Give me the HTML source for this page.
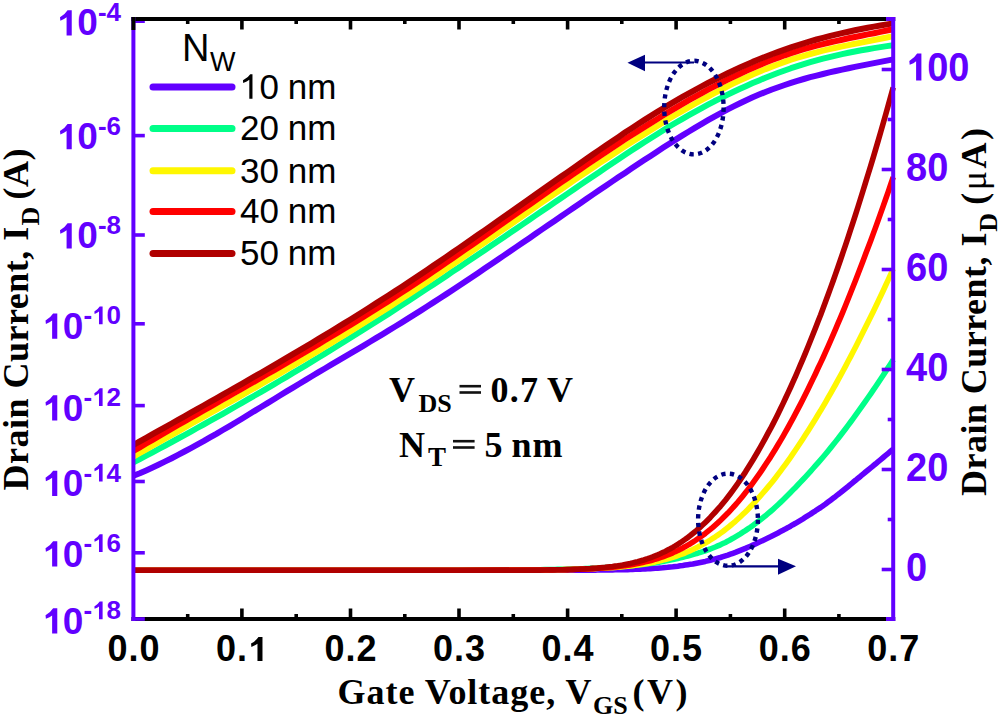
<!DOCTYPE html>
<html><head><meta charset="utf-8"><style>
html,body{margin:0;padding:0;background:#fff;overflow:hidden;}
svg{display:block;}
.sb{font-family:"Liberation Sans",sans-serif;font-weight:bold;fill:#000;}
.sr{font-family:"Liberation Sans",sans-serif;fill:#000;}
.pu{fill:#6200FF;}
.se{font-family:"Liberation Serif",serif;font-weight:bold;fill:#000;}
</style></head><body>
<svg width="1000" height="719" viewBox="0 0 1000 719">
<rect width="1000" height="719" fill="#fff"/>
<g fill="none" stroke-width="6.0" stroke-linejoin="round">
<path d="M133.4 475.8 L139.8 473.2 L146.2 470.4 L152.6 467.5 L158.9 464.5 L165.3 461.4 L171.7 458.2 L178.1 454.9 L184.5 451.5 L190.9 448.1 L197.2 444.6 L203.6 441.1 L210.0 437.4 L216.4 433.8 L222.8 430.0 L229.2 426.3 L235.6 422.5 L241.9 418.7 L248.3 414.8 L254.7 410.9 L261.1 407.0 L267.5 403.1 L273.9 399.2 L280.3 395.3 L286.6 391.4 L293.0 387.6 L299.4 383.7 L305.8 379.9 L312.2 376.0 L318.6 372.2 L324.9 368.5 L331.3 364.7 L337.7 360.9 L344.1 357.1 L350.5 353.4 L356.9 349.6 L363.3 345.8 L369.6 342.0 L376.0 338.1 L382.4 334.3 L388.8 330.4 L395.2 326.5 L401.6 322.6 L407.9 318.6 L414.3 314.6 L420.7 310.6 L427.1 306.5 L433.5 302.4 L439.9 298.2 L446.3 294.1 L452.6 289.9 L459.0 285.7 L465.4 281.4 L471.8 277.2 L478.2 272.9 L484.6 268.6 L491.0 264.3 L497.3 260.0 L503.7 255.6 L510.1 251.3 L516.5 246.9 L522.9 242.6 L529.3 238.2 L535.6 233.8 L542.0 229.4 L548.4 225.1 L554.8 220.7 L561.2 216.3 L567.6 211.9 L574.0 207.5 L580.3 203.2 L586.7 198.8 L593.1 194.4 L599.5 190.1 L605.9 185.8 L612.3 181.4 L618.7 177.1 L625.0 172.9 L631.4 168.6 L637.8 164.3 L644.2 160.1 L650.6 155.9 L657.0 151.7 L663.3 147.6 L669.7 143.5 L676.1 139.4 L682.5 135.4 L688.9 131.5 L695.3 127.6 L701.7 123.9 L708.0 120.2 L714.4 116.6 L720.8 113.1 L727.2 109.7 L733.6 106.4 L740.0 103.2 L746.3 100.2 L752.7 97.3 L759.1 94.6 L765.5 92.0 L771.9 89.5 L778.3 87.2 L784.7 85.0 L791.0 82.9 L797.4 80.9 L803.8 79.0 L810.2 77.2 L816.6 75.6 L823.0 74.0 L829.4 72.4 L835.7 71.0 L842.1 69.6 L848.5 68.2 L854.9 66.9 L861.3 65.6 L867.7 64.4 L874.0 63.1 L880.4 61.9 L886.8 60.6 L893.2 59.4" stroke="#6200FF"/>
<path d="M133.4 462.4 L139.8 459.1 L146.2 455.7 L152.6 452.3 L158.9 448.9 L165.3 445.5 L171.7 442.0 L178.1 438.5 L184.5 435.1 L190.9 431.6 L197.2 428.0 L203.6 424.5 L210.0 420.9 L216.4 417.4 L222.8 413.8 L229.2 410.1 L235.6 406.5 L241.9 402.9 L248.3 399.2 L254.7 395.5 L261.1 391.8 L267.5 388.1 L273.9 384.3 L280.3 380.5 L286.6 376.8 L293.0 372.9 L299.4 369.1 L305.8 365.3 L312.2 361.4 L318.6 357.5 L324.9 353.6 L331.3 349.7 L337.7 345.8 L344.1 341.8 L350.5 337.8 L356.9 333.8 L363.3 329.8 L369.6 325.8 L376.0 321.7 L382.4 317.7 L388.8 313.6 L395.2 309.5 L401.6 305.3 L407.9 301.2 L414.3 297.0 L420.7 292.8 L427.1 288.6 L433.5 284.4 L439.9 280.2 L446.3 275.9 L452.6 271.6 L459.0 267.4 L465.4 263.1 L471.8 258.8 L478.2 254.5 L484.6 250.2 L491.0 245.8 L497.3 241.5 L503.7 237.2 L510.1 232.8 L516.5 228.5 L522.9 224.1 L529.3 219.8 L535.6 215.4 L542.0 211.0 L548.4 206.7 L554.8 202.3 L561.2 198.0 L567.6 193.6 L574.0 189.3 L580.3 184.9 L586.7 180.6 L593.1 176.2 L599.5 171.9 L605.9 167.6 L612.3 163.3 L618.7 159.0 L625.0 154.8 L631.4 150.5 L637.8 146.4 L644.2 142.2 L650.6 138.2 L657.0 134.2 L663.3 130.2 L669.7 126.3 L676.1 122.5 L682.5 118.8 L688.9 115.2 L695.3 111.6 L701.7 108.1 L708.0 104.7 L714.4 101.3 L720.8 98.1 L727.2 94.9 L733.6 91.8 L740.0 88.8 L746.3 85.9 L752.7 83.1 L759.1 80.4 L765.5 77.7 L771.9 75.2 L778.3 72.8 L784.7 70.5 L791.0 68.2 L797.4 66.1 L803.8 64.1 L810.2 62.2 L816.6 60.4 L823.0 58.7 L829.4 57.1 L835.7 55.6 L842.1 54.1 L848.5 52.8 L854.9 51.5 L861.3 50.3 L867.7 49.2 L874.0 48.1 L880.4 47.1 L886.8 46.1 L893.2 45.2" stroke="#00FF88"/>
<path d="M133.4 456.6 L139.8 452.9 L146.2 449.3 L152.6 445.7 L158.9 442.1 L165.3 438.5 L171.7 434.9 L178.1 431.3 L184.5 427.7 L190.9 424.0 L197.2 420.4 L203.6 416.8 L210.0 413.2 L216.4 409.6 L222.8 406.0 L229.2 402.4 L235.6 398.8 L241.9 395.1 L248.3 391.5 L254.7 387.8 L261.1 384.2 L267.5 380.5 L273.9 376.8 L280.3 373.1 L286.6 369.4 L293.0 365.7 L299.4 361.9 L305.8 358.2 L312.2 354.4 L318.6 350.6 L324.9 346.8 L331.3 342.9 L337.7 339.0 L344.1 335.1 L350.5 331.2 L356.9 327.3 L363.3 323.3 L369.6 319.3 L376.0 315.3 L382.4 311.2 L388.8 307.1 L395.2 303.0 L401.6 298.8 L407.9 294.7 L414.3 290.4 L420.7 286.2 L427.1 281.9 L433.5 277.6 L439.9 273.3 L446.3 268.9 L452.6 264.5 L459.0 260.2 L465.4 255.8 L471.8 251.3 L478.2 246.9 L484.6 242.5 L491.0 238.0 L497.3 233.6 L503.7 229.1 L510.1 224.7 L516.5 220.2 L522.9 215.7 L529.3 211.3 L535.6 206.8 L542.0 202.4 L548.4 198.0 L554.8 193.6 L561.2 189.2 L567.6 184.8 L574.0 180.4 L580.3 176.1 L586.7 171.7 L593.1 167.4 L599.5 163.1 L605.9 158.9 L612.3 154.7 L618.7 150.5 L625.0 146.3 L631.4 142.2 L637.8 138.1 L644.2 134.1 L650.6 130.1 L657.0 126.1 L663.3 122.2 L669.7 118.3 L676.1 114.5 L682.5 110.8 L688.9 107.1 L695.3 103.5 L701.7 99.9 L708.0 96.5 L714.4 93.1 L720.8 89.8 L727.2 86.5 L733.6 83.4 L740.0 80.3 L746.3 77.4 L752.7 74.5 L759.1 71.8 L765.5 69.1 L771.9 66.6 L778.3 64.2 L784.7 61.9 L791.0 59.7 L797.4 57.7 L803.8 55.8 L810.2 54.0 L816.6 52.3 L823.0 50.7 L829.4 49.2 L835.7 47.8 L842.1 46.4 L848.5 45.1 L854.9 43.8 L861.3 42.6 L867.7 41.3 L874.0 40.0 L880.4 38.8 L886.8 37.5 L893.2 36.1" stroke="#FFF700"/>
<path d="M133.4 451.0 L139.8 447.3 L146.2 443.5 L152.6 439.8 L158.9 436.1 L165.3 432.4 L171.7 428.7 L178.1 425.0 L184.5 421.4 L190.9 417.7 L197.2 414.1 L203.6 410.4 L210.0 406.8 L216.4 403.1 L222.8 399.5 L229.2 395.9 L235.6 392.2 L241.9 388.6 L248.3 384.9 L254.7 381.3 L261.1 377.6 L267.5 374.0 L273.9 370.3 L280.3 366.6 L286.6 362.9 L293.0 359.2 L299.4 355.4 L305.8 351.7 L312.2 347.9 L318.6 344.1 L324.9 340.3 L331.3 336.5 L337.7 332.7 L344.1 328.8 L350.5 324.9 L356.9 321.0 L363.3 317.0 L369.6 313.0 L376.0 309.0 L382.4 305.0 L388.8 300.9 L395.2 296.8 L401.6 292.6 L407.9 288.4 L414.3 284.2 L420.7 280.0 L427.1 275.7 L433.5 271.3 L439.9 267.0 L446.3 262.6 L452.6 258.2 L459.0 253.8 L465.4 249.4 L471.8 245.0 L478.2 240.5 L484.6 236.0 L491.0 231.6 L497.3 227.1 L503.7 222.6 L510.1 218.1 L516.5 213.6 L522.9 209.1 L529.3 204.7 L535.6 200.2 L542.0 195.7 L548.4 191.2 L554.8 186.8 L561.2 182.4 L567.6 178.0 L574.0 173.6 L580.3 169.2 L586.7 164.8 L593.1 160.5 L599.5 156.2 L605.9 151.9 L612.3 147.7 L618.7 143.5 L625.0 139.3 L631.4 135.2 L637.8 131.1 L644.2 127.1 L650.6 123.1 L657.0 119.2 L663.3 115.3 L669.7 111.4 L676.1 107.6 L682.5 103.9 L688.9 100.2 L695.3 96.6 L701.7 93.1 L708.0 89.7 L714.4 86.3 L720.8 83.0 L727.2 79.8 L733.6 76.7 L740.0 73.7 L746.3 70.7 L752.7 67.9 L759.1 65.2 L765.5 62.5 L771.9 60.0 L778.3 57.6 L784.7 55.3 L791.0 53.2 L797.4 51.1 L803.8 49.2 L810.2 47.4 L816.6 45.7 L823.0 44.1 L829.4 42.5 L835.7 41.1 L842.1 39.7 L848.5 38.3 L854.9 37.0 L861.3 35.7 L867.7 34.4 L874.0 33.2 L880.4 31.9 L886.8 30.5 L893.2 29.2" stroke="#FF0000"/>
<path d="M133.4 445.0 L139.8 441.4 L146.2 437.8 L152.6 434.2 L158.9 430.6 L165.3 427.1 L171.7 423.5 L178.1 419.9 L184.5 416.3 L190.9 412.7 L197.2 409.1 L203.6 405.5 L210.0 401.9 L216.4 398.3 L222.8 394.7 L229.2 391.0 L235.6 387.4 L241.9 383.8 L248.3 380.1 L254.7 376.4 L261.1 372.8 L267.5 369.1 L273.9 365.4 L280.3 361.6 L286.6 357.9 L293.0 354.1 L299.4 350.4 L305.8 346.6 L312.2 342.8 L318.6 338.9 L324.9 335.1 L331.3 331.2 L337.7 327.3 L344.1 323.4 L350.5 319.5 L356.9 315.5 L363.3 311.5 L369.6 307.5 L376.0 303.4 L382.4 299.3 L388.8 295.2 L395.2 291.1 L401.6 286.9 L407.9 282.7 L414.3 278.5 L420.7 274.2 L427.1 269.9 L433.5 265.6 L439.9 261.3 L446.3 256.9 L452.6 252.5 L459.0 248.1 L465.4 243.7 L471.8 239.3 L478.2 234.8 L484.6 230.4 L491.0 225.9 L497.3 221.4 L503.7 216.9 L510.1 212.5 L516.5 208.0 L522.9 203.5 L529.3 199.0 L535.6 194.5 L542.0 190.0 L548.4 185.5 L554.8 181.0 L561.2 176.5 L567.6 172.1 L574.0 167.6 L580.3 163.2 L586.7 158.7 L593.1 154.3 L599.5 149.9 L605.9 145.6 L612.3 141.2 L618.7 136.9 L625.0 132.6 L631.4 128.4 L637.8 124.2 L644.2 120.1 L650.6 116.1 L657.0 112.1 L663.3 108.2 L669.7 104.4 L676.1 100.6 L682.5 96.9 L688.9 93.3 L695.3 89.8 L701.7 86.4 L708.0 83.0 L714.4 79.8 L720.8 76.6 L727.2 73.5 L733.6 70.5 L740.0 67.5 L746.3 64.7 L752.7 61.9 L759.1 59.3 L765.5 56.7 L771.9 54.2 L778.3 51.9 L784.7 49.6 L791.0 47.4 L797.4 45.3 L803.8 43.3 L810.2 41.4 L816.6 39.5 L823.0 37.8 L829.4 36.2 L835.7 34.6 L842.1 33.1 L848.5 31.7 L854.9 30.3 L861.3 29.0 L867.7 27.8 L874.0 26.6 L880.4 25.5 L886.8 24.4 L893.2 23.4" stroke="#B00000"/>
<path d="M133.4 570.3 L214.7 570.3 L296.0 570.3 L377.4 570.3 L458.7 570.3 L540.0 570.3 L545.0 570.3 L547.5 570.3 L550.0 570.3 L552.5 570.3 L555.0 570.3 L557.5 570.2 L560.0 570.2 L562.5 570.2 L565.0 570.2 L567.5 570.2 L570.1 570.2 L572.6 570.2 L575.1 570.2 L577.6 570.2 L580.1 570.2 L582.6 570.2 L585.1 570.1 L587.6 570.1 L590.1 570.1 L592.6 570.1 L595.1 570.1 L597.6 570.0 L600.1 570.0 L602.6 570.0 L605.1 570.0 L607.6 569.9 L610.1 569.9 L612.6 569.9 L615.1 569.8 L617.6 569.8 L620.2 569.7 L622.7 569.7 L625.2 569.6 L627.7 569.6 L630.2 569.5 L632.7 569.4 L635.2 569.3 L637.7 569.2 L640.2 569.1 L642.7 569.0 L645.2 568.9 L647.7 568.8 L650.2 568.7 L652.7 568.5 L655.2 568.3 L657.7 568.2 L660.2 568.0 L662.7 567.8 L665.2 567.5 L667.7 567.3 L670.3 567.0 L672.8 566.8 L675.3 566.5 L677.8 566.2 L680.3 565.8 L682.8 565.5 L685.3 565.1 L687.8 564.7 L690.3 564.3 L692.8 563.9 L695.3 563.4 L697.8 562.9 L700.3 562.4 L702.8 561.9 L705.3 561.4 L707.8 560.8 L710.3 560.2 L712.8 559.6 L715.3 558.9 L717.8 558.2 L720.4 557.5 L722.9 556.7 L725.4 555.9 L727.9 555.1 L730.4 554.2 L732.9 553.3 L735.4 552.4 L737.9 551.4 L740.4 550.4 L742.9 549.4 L745.4 548.4 L747.9 547.3 L750.4 546.2 L752.9 545.1 L755.4 544.0 L757.9 542.8 L760.4 541.6 L762.9 540.4 L765.4 539.2 L767.9 538.0 L770.5 536.8 L773.0 535.5 L775.5 534.2 L778.0 532.9 L780.5 531.6 L783.0 530.3 L785.5 528.9 L788.0 527.6 L790.5 526.2 L793.0 524.7 L795.5 523.3 L798.0 521.8 L800.5 520.3 L803.0 518.8 L805.5 517.2 L808.0 515.6 L810.5 514.1 L813.0 512.4 L815.5 510.8 L818.0 509.1 L820.6 507.5 L823.1 505.7 L825.6 504.0 L828.1 502.1 L830.6 500.2 L833.1 498.3 L835.6 496.4 L838.1 494.4 L840.6 492.5 L843.1 490.5 L845.6 488.5 L848.1 486.5 L850.6 484.4 L853.1 482.3 L855.6 480.3 L858.1 478.2 L860.6 476.2 L863.1 474.1 L865.6 472.0 L868.1 470.0 L870.7 467.9 L873.2 465.8 L875.7 463.8 L878.2 461.7 L880.7 459.6 L883.2 457.5 L885.7 455.4 L888.2 453.3 L890.7 451.2 L893.2 449.1" stroke="#6200FF" stroke-width="5.6"/>
<path d="M133.4 570.3 L214.7 570.3 L296.0 570.3 L377.4 570.3 L458.7 570.2 L540.0 569.7 L545.0 569.6 L547.5 569.6 L550.0 569.5 L552.5 569.5 L555.0 569.5 L557.5 569.4 L560.0 569.3 L562.5 569.3 L565.0 569.2 L567.5 569.2 L570.1 569.1 L572.6 569.0 L575.1 569.0 L577.6 568.9 L580.1 568.8 L582.6 568.7 L585.1 568.6 L587.6 568.5 L590.1 568.4 L592.6 568.3 L595.1 568.2 L597.6 568.0 L600.1 567.9 L602.6 567.8 L605.1 567.6 L607.6 567.5 L610.1 567.3 L612.6 567.2 L615.1 567.0 L617.6 566.8 L620.2 566.6 L622.7 566.4 L625.2 566.2 L627.7 566.0 L630.2 565.8 L632.7 565.5 L635.2 565.3 L637.7 565.0 L640.2 564.8 L642.7 564.5 L645.2 564.2 L647.7 563.8 L650.2 563.5 L652.7 563.2 L655.2 562.8 L657.7 562.4 L660.2 562.0 L662.7 561.5 L665.2 561.1 L667.7 560.6 L670.3 560.1 L672.8 559.6 L675.3 559.0 L677.8 558.5 L680.3 557.9 L682.8 557.2 L685.3 556.6 L687.8 556.0 L690.3 555.3 L692.8 554.6 L695.3 553.9 L697.8 553.2 L700.3 552.4 L702.8 551.6 L705.3 550.8 L707.8 549.9 L710.3 549.0 L712.8 548.0 L715.3 547.0 L717.8 545.9 L720.4 544.8 L722.9 543.6 L725.4 542.4 L727.9 541.1 L730.4 539.7 L732.9 538.3 L735.4 536.8 L737.9 535.3 L740.4 533.8 L742.9 532.2 L745.4 530.6 L747.9 528.9 L750.4 527.2 L752.9 525.4 L755.4 523.6 L757.9 521.7 L760.4 519.8 L762.9 517.8 L765.4 515.8 L767.9 513.7 L770.5 511.5 L773.0 509.3 L775.5 507.0 L778.0 504.7 L780.5 502.4 L783.0 500.0 L785.5 497.5 L788.0 495.0 L790.5 492.5 L793.0 489.9 L795.5 487.4 L798.0 484.8 L800.5 482.1 L803.0 479.5 L805.5 476.8 L808.0 474.1 L810.5 471.3 L813.0 468.5 L815.5 465.7 L818.0 462.8 L820.6 459.9 L823.1 457.0 L825.6 454.0 L828.1 450.9 L830.6 447.9 L833.1 444.8 L835.6 441.6 L838.1 438.5 L840.6 435.2 L843.1 432.0 L845.6 428.7 L848.1 425.4 L850.6 422.0 L853.1 418.6 L855.6 415.1 L858.1 411.7 L860.6 408.2 L863.1 404.6 L865.6 401.1 L868.1 397.5 L870.7 393.8 L873.2 390.2 L875.7 386.5 L878.2 382.7 L880.7 379.0 L883.2 375.2 L885.7 371.4 L888.2 367.5 L890.7 363.7 L893.2 359.8" stroke="#00FF88" stroke-width="5.6"/>
<path d="M133.4 570.3 L214.7 570.3 L296.0 570.3 L377.4 570.3 L458.7 570.3 L540.0 570.0 L545.0 569.9 L547.5 569.9 L550.0 569.8 L552.5 569.8 L555.0 569.8 L557.5 569.7 L560.0 569.7 L562.5 569.6 L565.0 569.6 L567.5 569.5 L570.1 569.5 L572.6 569.4 L575.1 569.3 L577.6 569.3 L580.1 569.2 L582.6 569.1 L585.1 569.0 L587.6 568.9 L590.1 568.8 L592.6 568.7 L595.1 568.6 L597.6 568.5 L600.1 568.3 L602.6 568.2 L605.1 568.0 L607.6 567.9 L610.1 567.7 L612.6 567.6 L615.1 567.4 L617.6 567.2 L620.2 566.9 L622.7 566.7 L625.2 566.5 L627.7 566.2 L630.2 565.9 L632.7 565.6 L635.2 565.3 L637.7 565.0 L640.2 564.6 L642.7 564.2 L645.2 563.8 L647.7 563.4 L650.2 562.9 L652.7 562.4 L655.2 561.9 L657.7 561.3 L660.2 560.7 L662.7 560.1 L665.2 559.5 L667.7 558.8 L670.3 558.0 L672.8 557.3 L675.3 556.5 L677.8 555.6 L680.3 554.7 L682.8 553.8 L685.3 552.8 L687.8 551.7 L690.3 550.6 L692.8 549.5 L695.3 548.3 L697.8 547.1 L700.3 545.8 L702.8 544.4 L705.3 543.0 L707.8 541.6 L710.3 540.0 L712.8 538.4 L715.3 536.8 L717.8 535.1 L720.4 533.3 L722.9 531.5 L725.4 529.5 L727.9 527.6 L730.4 525.5 L732.9 523.4 L735.4 521.3 L737.9 519.0 L740.4 516.7 L742.9 514.3 L745.4 511.9 L747.9 509.4 L750.4 506.8 L752.9 504.2 L755.4 501.5 L757.9 498.7 L760.4 495.9 L762.9 493.0 L765.4 490.1 L767.9 487.1 L770.5 484.0 L773.0 480.9 L775.5 477.7 L778.0 474.4 L780.5 471.1 L783.0 467.7 L785.5 464.3 L788.0 460.8 L790.5 457.3 L793.0 453.7 L795.5 450.0 L798.0 446.3 L800.5 442.5 L803.0 438.7 L805.5 434.8 L808.0 430.9 L810.5 426.9 L813.0 422.9 L815.5 418.9 L818.0 414.7 L820.6 410.6 L823.1 406.3 L825.6 402.1 L828.1 397.7 L830.6 393.4 L833.1 388.9 L835.6 384.5 L838.1 379.9 L840.6 375.4 L843.1 370.7 L845.6 366.1 L848.1 361.3 L850.6 356.6 L853.1 351.8 L855.6 346.9 L858.1 342.0 L860.6 337.0 L863.1 332.1 L865.6 327.0 L868.1 322.0 L870.7 316.8 L873.2 311.7 L875.7 306.5 L878.2 301.3 L880.7 296.0 L883.2 290.7 L885.7 285.3 L888.2 279.9 L890.7 274.4 L893.2 268.9" stroke="#FFF700" stroke-width="5.6"/>
<path d="M133.4 570.3 L214.7 570.3 L296.0 570.3 L377.4 570.3 L458.7 570.3 L540.0 570.0 L545.0 570.0 L547.5 569.9 L550.0 569.9 L552.5 569.9 L555.0 569.8 L557.5 569.8 L560.0 569.8 L562.5 569.7 L565.0 569.6 L567.5 569.6 L570.1 569.5 L572.6 569.5 L575.1 569.4 L577.6 569.3 L580.1 569.2 L582.6 569.1 L585.1 569.0 L587.6 568.9 L590.1 568.8 L592.6 568.6 L595.1 568.5 L597.6 568.3 L600.1 568.1 L602.6 568.0 L605.1 567.8 L607.6 567.6 L610.1 567.4 L612.6 567.1 L615.1 566.9 L617.6 566.6 L620.2 566.3 L622.7 566.0 L625.2 565.6 L627.7 565.3 L630.2 564.9 L632.7 564.5 L635.2 564.0 L637.7 563.6 L640.2 563.0 L642.7 562.5 L645.2 561.9 L647.7 561.3 L650.2 560.7 L652.7 560.0 L655.2 559.2 L657.7 558.5 L660.2 557.6 L662.7 556.8 L665.2 555.8 L667.7 554.9 L670.3 553.8 L672.8 552.8 L675.3 551.6 L677.8 550.5 L680.3 549.2 L682.8 547.9 L685.3 546.6 L687.8 545.1 L690.3 543.7 L692.8 542.1 L695.3 540.5 L697.8 538.8 L700.3 537.1 L702.8 535.3 L705.3 533.4 L707.8 531.4 L710.3 529.4 L712.8 527.3 L715.3 525.1 L717.8 522.9 L720.4 520.5 L722.9 518.1 L725.4 515.6 L727.9 513.1 L730.4 510.4 L732.9 507.7 L735.4 504.8 L737.9 502.0 L740.4 499.0 L742.9 495.9 L745.4 492.8 L747.9 489.6 L750.4 486.3 L752.9 482.9 L755.4 479.4 L757.9 475.9 L760.4 472.3 L762.9 468.6 L765.4 464.8 L767.9 461.0 L770.5 457.1 L773.0 453.1 L775.5 449.0 L778.0 444.8 L780.5 440.6 L783.0 436.3 L785.5 431.9 L788.0 427.5 L790.5 422.9 L793.0 418.3 L795.5 413.7 L798.0 408.9 L800.5 404.1 L803.0 399.2 L805.5 394.2 L808.0 389.2 L810.5 384.1 L813.0 378.9 L815.5 373.7 L818.0 368.3 L820.6 362.9 L823.1 357.5 L825.6 351.9 L828.1 346.3 L830.6 340.7 L833.1 334.9 L835.6 329.1 L838.1 323.2 L840.6 317.3 L843.1 311.3 L845.6 305.2 L848.1 299.0 L850.6 292.8 L853.1 286.5 L855.6 280.2 L858.1 273.8 L860.6 267.3 L863.1 260.8 L865.6 254.1 L868.1 247.5 L870.7 240.7 L873.2 233.9 L875.7 227.1 L878.2 220.1 L880.7 213.1 L883.2 206.1 L885.7 199.0 L888.2 191.8 L890.7 184.5 L893.2 177.2" stroke="#FF0000" stroke-width="5.6"/>
<path d="M133.4 570.3 L214.7 570.3 L296.0 570.3 L377.4 570.3 L458.7 570.3 L540.0 570.1 L545.0 570.0 L547.5 570.0 L550.0 569.9 L552.5 569.9 L555.0 569.9 L557.5 569.8 L560.0 569.8 L562.5 569.7 L565.0 569.7 L567.5 569.6 L570.1 569.5 L572.6 569.4 L575.1 569.3 L577.6 569.2 L580.1 569.1 L582.6 569.0 L585.1 568.9 L587.6 568.7 L590.1 568.6 L592.6 568.4 L595.1 568.2 L597.6 568.1 L600.1 567.8 L602.6 567.6 L605.1 567.4 L607.6 567.1 L610.1 566.8 L612.6 566.5 L615.1 566.1 L617.6 565.8 L620.2 565.4 L622.7 565.0 L625.2 564.5 L627.7 564.0 L630.2 563.5 L632.7 562.9 L635.2 562.3 L637.7 561.7 L640.2 561.0 L642.7 560.3 L645.2 559.5 L647.7 558.7 L650.2 557.8 L652.7 556.9 L655.2 555.9 L657.7 554.9 L660.2 553.8 L662.7 552.6 L665.2 551.4 L667.7 550.1 L670.3 548.8 L672.8 547.4 L675.3 545.9 L677.8 544.3 L680.3 542.7 L682.8 541.0 L685.3 539.3 L687.8 537.4 L690.3 535.5 L692.8 533.5 L695.3 531.5 L697.8 529.3 L700.3 527.1 L702.8 524.8 L705.3 522.4 L707.8 519.9 L710.3 517.4 L712.8 514.7 L715.3 512.0 L717.8 509.2 L720.4 506.3 L722.9 503.2 L725.4 500.2 L727.9 497.0 L730.4 493.7 L732.9 490.3 L735.4 486.8 L737.9 483.3 L740.4 479.6 L742.9 475.9 L745.4 472.1 L747.9 468.1 L750.4 464.1 L752.9 460.0 L755.4 455.8 L757.9 451.5 L760.4 447.1 L762.9 442.7 L765.4 438.1 L767.9 433.4 L770.5 428.7 L773.0 423.9 L775.5 418.9 L778.0 413.9 L780.5 408.8 L783.0 403.6 L785.5 398.3 L788.0 392.9 L790.5 387.5 L793.0 381.9 L795.5 376.3 L798.0 370.5 L800.5 364.7 L803.0 358.8 L805.5 352.8 L808.0 346.7 L810.5 340.5 L813.0 334.3 L815.5 327.9 L818.0 321.5 L820.6 315.0 L823.1 308.3 L825.6 301.6 L828.1 294.8 L830.6 287.9 L833.1 281.0 L835.6 273.9 L838.1 266.8 L840.6 259.5 L843.1 252.2 L845.6 244.8 L848.1 237.3 L850.6 229.7 L853.1 222.1 L855.6 214.3 L858.1 206.5 L860.6 198.5 L863.1 190.5 L865.6 182.4 L868.1 174.2 L870.7 165.9 L873.2 157.6 L875.7 149.1 L878.2 140.6 L880.7 132.0 L883.2 123.3 L885.7 114.5 L888.2 105.6 L890.7 96.6 L893.2 87.6" stroke="#B00000" stroke-width="5.6"/>
</g>
<g stroke-width="3.6">
<line x1="187.7" y1="619" x2="187.7" y2="614.0" stroke="#000"/>
<line x1="187.7" y1="19" x2="187.7" y2="24.0" stroke="#000"/>
<line x1="241.9" y1="619" x2="241.9" y2="608.5" stroke="#000"/>
<line x1="241.9" y1="19" x2="241.9" y2="29.5" stroke="#000"/>
<line x1="296.2" y1="619" x2="296.2" y2="614.0" stroke="#000"/>
<line x1="296.2" y1="19" x2="296.2" y2="24.0" stroke="#000"/>
<line x1="350.5" y1="619" x2="350.5" y2="608.5" stroke="#000"/>
<line x1="350.5" y1="19" x2="350.5" y2="29.5" stroke="#000"/>
<line x1="404.8" y1="619" x2="404.8" y2="614.0" stroke="#000"/>
<line x1="404.8" y1="19" x2="404.8" y2="24.0" stroke="#000"/>
<line x1="459.0" y1="619" x2="459.0" y2="608.5" stroke="#000"/>
<line x1="459.0" y1="19" x2="459.0" y2="29.5" stroke="#000"/>
<line x1="513.3" y1="619" x2="513.3" y2="614.0" stroke="#000"/>
<line x1="513.3" y1="19" x2="513.3" y2="24.0" stroke="#000"/>
<line x1="567.6" y1="619" x2="567.6" y2="608.5" stroke="#000"/>
<line x1="567.6" y1="19" x2="567.6" y2="29.5" stroke="#000"/>
<line x1="621.8" y1="619" x2="621.8" y2="614.0" stroke="#000"/>
<line x1="621.8" y1="19" x2="621.8" y2="24.0" stroke="#000"/>
<line x1="676.1" y1="619" x2="676.1" y2="608.5" stroke="#000"/>
<line x1="676.1" y1="19" x2="676.1" y2="29.5" stroke="#000"/>
<line x1="730.4" y1="619" x2="730.4" y2="614.0" stroke="#000"/>
<line x1="730.4" y1="19" x2="730.4" y2="24.0" stroke="#000"/>
<line x1="784.7" y1="619" x2="784.7" y2="608.5" stroke="#000"/>
<line x1="784.7" y1="19" x2="784.7" y2="29.5" stroke="#000"/>
<line x1="838.9" y1="619" x2="838.9" y2="614.0" stroke="#000"/>
<line x1="838.9" y1="19" x2="838.9" y2="24.0" stroke="#000"/>
<line x1="133.4" y1="21.2" x2="144.8" y2="21.2" stroke="#6200FF"/>
<line x1="893.2" y1="569.5" x2="881.7" y2="569.5" stroke="#6200FF"/>
<line x1="893.2" y1="519.5" x2="887.7" y2="519.5" stroke="#6200FF"/>
<line x1="893.2" y1="469.5" x2="881.7" y2="469.5" stroke="#6200FF"/>
<line x1="893.2" y1="419.5" x2="887.7" y2="419.5" stroke="#6200FF"/>
<line x1="893.2" y1="369.5" x2="881.7" y2="369.5" stroke="#6200FF"/>
<line x1="893.2" y1="319.5" x2="887.7" y2="319.5" stroke="#6200FF"/>
<line x1="893.2" y1="269.5" x2="881.7" y2="269.5" stroke="#6200FF"/>
<line x1="893.2" y1="219.5" x2="887.7" y2="219.5" stroke="#6200FF"/>
<line x1="893.2" y1="169.5" x2="881.7" y2="169.5" stroke="#6200FF"/>
<line x1="893.2" y1="119.5" x2="887.7" y2="119.5" stroke="#6200FF"/>
<line x1="893.2" y1="69.5" x2="881.7" y2="69.5" stroke="#6200FF"/>
</g>
<g stroke-width="4">
<line x1="131.4" y1="19" x2="895.2" y2="19" stroke="#000"/>
<line x1="131.4" y1="619" x2="895.2" y2="619" stroke="#000"/>
<line x1="133.4" y1="17" x2="133.4" y2="621" stroke="#6200FF"/>
<line x1="133.4" y1="17" x2="133.4" y2="30" stroke="#000"/>
<line x1="893.2" y1="17" x2="893.2" y2="621" stroke="#6200FF"/>
<line x1="886" y1="19" x2="895.2" y2="19" stroke="#6200FF"/>
<line x1="886" y1="619" x2="895.2" y2="619" stroke="#6200FF"/>
</g>
<g stroke-width="3.6">
<line x1="133.4" y1="135.6" x2="144.8" y2="135.6" stroke="#6200FF"/>
<line x1="133.4" y1="235.0" x2="144.8" y2="235.0" stroke="#6200FF"/>
<line x1="133.4" y1="323.8" x2="144.8" y2="323.8" stroke="#6200FF"/>
<line x1="133.4" y1="405.6" x2="144.8" y2="405.6" stroke="#6200FF"/>
<line x1="133.4" y1="481.5" x2="144.8" y2="481.5" stroke="#6200FF"/>
<line x1="133.4" y1="552.8" x2="144.8" y2="552.8" stroke="#6200FF"/>
<line x1="133.4" y1="619.0" x2="144.8" y2="619.0" stroke="#6200FF"/>
</g>
<text id="yl0" class="sb pu" text-anchor="end" font-size="37" transform="translate(121.0 35.4) scale(1 1.02)"><tspan> 0</tspan><tspan font-size="26" dy="-14.1">-4</tspan></text>
<text id="yl1" class="sb pu" text-anchor="end" font-size="37" transform="translate(121.0 149.2) scale(1 1.02)"><tspan> 0</tspan><tspan font-size="26" dy="-14.1">-6</tspan></text>
<text id="yl2" class="sb pu" text-anchor="end" font-size="37" transform="translate(121.0 248.4) scale(1 1.02)"><tspan> 0</tspan><tspan font-size="26" dy="-14.1">-8</tspan></text>
<text id="yl3" class="sb pu" text-anchor="end" font-size="37" transform="translate(121.0 338.7) scale(1 1.02)"><tspan> 0</tspan><tspan font-size="26" dy="-14.1">- 0</tspan></text>
<text id="yl4" class="sb pu" text-anchor="end" font-size="37" transform="translate(121.0 420.5) scale(1 1.02)"><tspan> 0</tspan><tspan font-size="26" dy="-14.1">- 2</tspan></text>
<text id="yl5" class="sb pu" text-anchor="end" font-size="37" transform="translate(121.0 495.9) scale(1 1.02)"><tspan> 0</tspan><tspan font-size="26" dy="-14.1">- 4</tspan></text>
<text id="yl6" class="sb pu" text-anchor="end" font-size="37" transform="translate(121.0 566.5) scale(1 1.02)"><tspan> 0</tspan><tspan font-size="26" dy="-14.1">- 6</tspan></text>
<text id="yl7" class="sb pu" text-anchor="end" font-size="37" transform="translate(121.0 633.6) scale(1 1.02)"><tspan> 0</tspan><tspan font-size="26" dy="-14.1">- 8</tspan></text>
<text id="xl0" class="sb" font-size="36" letter-spacing="1" x="133.9" y="661" text-anchor="middle">0.0</text>
<text id="xl1" class="sb" font-size="36" letter-spacing="1" x="242.4" y="661" text-anchor="middle">0. </text>
<text id="xl2" class="sb" font-size="36" letter-spacing="1" x="351.0" y="661" text-anchor="middle">0.2</text>
<text id="xl3" class="sb" font-size="36" letter-spacing="1" x="459.5" y="661" text-anchor="middle">0.3</text>
<text id="xl4" class="sb" font-size="36" letter-spacing="1" x="568.1" y="661" text-anchor="middle">0.4</text>
<text id="xl5" class="sb" font-size="36" letter-spacing="1" x="676.6" y="661" text-anchor="middle">0.5</text>
<text id="xl6" class="sb" font-size="36" letter-spacing="1" x="785.2" y="661" text-anchor="middle">0.6</text>
<text id="xl7" class="sb" font-size="36" letter-spacing="1" x="893.7" y="661" text-anchor="middle">0.7</text>
<text id="rl0" class="sb pu" font-size="38" transform="translate(906 580.5) scale(1.0 1.06)">0</text>
<text id="rl1" class="sb pu" font-size="38" transform="translate(906 480.5) scale(1.0 1.06)">20</text>
<text id="rl2" class="sb pu" font-size="38" transform="translate(906 380.5) scale(1.0 1.06)">40</text>
<text id="rl3" class="sb pu" font-size="38" transform="translate(906 280.5) scale(1.0 1.06)">60</text>
<text id="rl4" class="sb pu" font-size="38" transform="translate(906 180.5) scale(1.0 1.06)">80</text>
<text id="rl5" class="sb pu" font-size="38" transform="translate(906 80.5) scale(1.0 1.06)"> 00</text>
<line x1="153" y1="86.9" x2="232" y2="86.9" stroke="#6200FF" stroke-width="7" stroke-linecap="round"/>
<text id="lg0" class="sr" font-size="35" x="240" y="98.7"> 0</text>
<text id="lgn0" class="sr" font-size="35" x="287.7" y="98.7">nm</text>
<line x1="153" y1="128.4" x2="232" y2="128.4" stroke="#00FF88" stroke-width="7" stroke-linecap="round"/>
<text id="lg1" class="sr" font-size="35" x="240" y="140.2">20</text>
<text id="lgn1" class="sr" font-size="35" x="287.7" y="140.2">nm</text>
<line x1="153" y1="170.8" x2="232" y2="170.8" stroke="#FFF700" stroke-width="7" stroke-linecap="round"/>
<text id="lg2" class="sr" font-size="35" x="240" y="182.6">30</text>
<text id="lgn2" class="sr" font-size="35" x="287.7" y="182.6">nm</text>
<line x1="153" y1="211.6" x2="232" y2="211.6" stroke="#FF0000" stroke-width="7" stroke-linecap="round"/>
<text id="lg3" class="sr" font-size="35" x="240" y="223.4">40</text>
<text id="lgn3" class="sr" font-size="35" x="287.7" y="223.4">nm</text>
<line x1="153" y1="253.4" x2="232" y2="253.4" stroke="#B00000" stroke-width="7" stroke-linecap="round"/>
<text id="lg4" class="sr" font-size="35" x="240" y="265.2">50</text>
<text id="lgn4" class="sr" font-size="35" x="287.7" y="265.2">nm</text>
<text id="nw" class="sr" x="182" y="61" font-size="38">N</text>
<text id="nws" class="sr" x="210" y="71" font-size="27">W</text>
<text id="vds_v" class="se" x="389" y="402" font-size="36">V</text>
<text id="vds_s" class="se" x="418.5" y="412" font-size="26">DS</text>
<rect id="vds_eq" x="459.5" y="384.9" width="21.5" height="2.6" fill="#111"/>
<rect x="459.5" y="391.2" width="21.5" height="2.6" fill="#111"/>
<text id="vds_n" class="se" x="490.5" y="402" font-size="36" textLength="47.5">0.7</text>
<text id="vds_u" class="se" x="547" y="402" font-size="36">V</text>
<text id="nt_n" class="se" x="399" y="457.3" font-size="36">N</text>
<text id="nt_s" class="se" x="428" y="466" font-size="27">T</text>
<rect id="nt_eq" x="453" y="439.9" width="21.6" height="2.6" fill="#111"/>
<rect x="453" y="446.2" width="21.6" height="2.6" fill="#111"/>
<text id="nt_n2" class="se" x="484.5" y="457.3" font-size="36">5</text>
<text id="nt_u" class="se" x="511.5" y="457.3" font-size="36" textLength="51">nm</text>
<text id="bt1" class="se" x="337.5" y="704" font-size="36" textLength="254">Gate Voltage, V</text>
<text id="bt2" class="se" x="593" y="714" font-size="26">GS</text>
<text id="bt3" class="se" x="632.5" y="704" font-size="36" textLength="55">(V)</text>
<g transform="translate(28 490.5) rotate(-90)">
<text id="lt1" class="se" x="0" y="0" font-size="36" textLength="263.8">Drain Current, I</text>
<text id="lt2" class="se" x="265.1" y="11" font-size="26">D</text>
<text id="lt3" class="se" x="290.9" y="0" font-size="36" textLength="51">(A)</text>
</g>
<g transform="translate(986 496) rotate(-90)">
<text id="rt1" class="se" x="0" y="0" font-size="36" textLength="263.5">Drain Current, I</text>
<text id="rt2" class="se" x="264.3" y="10.5" font-size="26">D</text>
<text id="rt3" class="se" x="291.2" y="0" font-size="36" textLength="76.9">(<tspan font-weight="normal">&#956;</tspan>A)</text>
</g>

<g transform="translate(121.0 35.4) scale(1 1.02)"><path d="M545 0L830 0L830 1370L600 1370Q470 1160 180 990L200 800Q430 885 545 985Z" transform="translate(-64.26 0.00) scale(0.01807 -0.01807)" fill="rgb(98, 0, 255)"/></g>
<g transform="translate(121.0 149.2) scale(1 1.02)"><path d="M545 0L830 0L830 1370L600 1370Q470 1160 180 990L200 800Q430 885 545 985Z" transform="translate(-64.26 0.00) scale(0.01807 -0.01807)" fill="rgb(98, 0, 255)"/></g>
<g transform="translate(121.0 248.4) scale(1 1.02)"><path d="M545 0L830 0L830 1370L600 1370Q470 1160 180 990L200 800Q430 885 545 985Z" transform="translate(-64.26 0.00) scale(0.01807 -0.01807)" fill="rgb(98, 0, 255)"/></g>
<g transform="translate(121.0 338.7) scale(1 1.02)"><path d="M545 0L830 0L830 1370L600 1370Q470 1160 180 990L200 800Q430 885 545 985Z" transform="translate(-78.72 0.00) scale(0.01807 -0.01807)" fill="rgb(98, 0, 255)"/></g>
<g transform="translate(121.0 338.7) scale(1 1.02)"><path d="M545 0L830 0L830 1370L600 1370Q470 1160 180 990L200 800Q430 885 545 985Z" transform="translate(-28.93 -14.10) scale(0.01270 -0.01270)" fill="rgb(98, 0, 255)"/></g>
<g transform="translate(121.0 420.5) scale(1 1.02)"><path d="M545 0L830 0L830 1370L600 1370Q470 1160 180 990L200 800Q430 885 545 985Z" transform="translate(-78.72 0.00) scale(0.01807 -0.01807)" fill="rgb(98, 0, 255)"/></g>
<g transform="translate(121.0 420.5) scale(1 1.02)"><path d="M545 0L830 0L830 1370L600 1370Q470 1160 180 990L200 800Q430 885 545 985Z" transform="translate(-28.93 -14.10) scale(0.01270 -0.01270)" fill="rgb(98, 0, 255)"/></g>
<g transform="translate(121.0 495.9) scale(1 1.02)"><path d="M545 0L830 0L830 1370L600 1370Q470 1160 180 990L200 800Q430 885 545 985Z" transform="translate(-78.72 0.00) scale(0.01807 -0.01807)" fill="rgb(98, 0, 255)"/></g>
<g transform="translate(121.0 495.9) scale(1 1.02)"><path d="M545 0L830 0L830 1370L600 1370Q470 1160 180 990L200 800Q430 885 545 985Z" transform="translate(-28.93 -14.10) scale(0.01270 -0.01270)" fill="rgb(98, 0, 255)"/></g>
<g transform="translate(121.0 566.5) scale(1 1.02)"><path d="M545 0L830 0L830 1370L600 1370Q470 1160 180 990L200 800Q430 885 545 985Z" transform="translate(-78.72 0.00) scale(0.01807 -0.01807)" fill="rgb(98, 0, 255)"/></g>
<g transform="translate(121.0 566.5) scale(1 1.02)"><path d="M545 0L830 0L830 1370L600 1370Q470 1160 180 990L200 800Q430 885 545 985Z" transform="translate(-28.93 -14.10) scale(0.01270 -0.01270)" fill="rgb(98, 0, 255)"/></g>
<g transform="translate(121.0 633.6) scale(1 1.02)"><path d="M545 0L830 0L830 1370L600 1370Q470 1160 180 990L200 800Q430 885 545 985Z" transform="translate(-78.72 0.00) scale(0.01807 -0.01807)" fill="rgb(98, 0, 255)"/></g>
<g transform="translate(121.0 633.6) scale(1 1.02)"><path d="M545 0L830 0L830 1370L600 1370Q470 1160 180 990L200 800Q430 885 545 985Z" transform="translate(-28.93 -14.10) scale(0.01270 -0.01270)" fill="rgb(98, 0, 255)"/></g>
<path d="M545 0L830 0L830 1370L600 1370Q470 1160 180 990L200 800Q430 885 545 985Z" transform="translate(247.89 661.00) scale(0.01758 -0.01758)" fill="rgb(0, 0, 0)"/>
<g transform="translate(906 80.5) scale(1.0 1.06)"><path d="M545 0L830 0L830 1370L600 1370Q470 1160 180 990L200 800Q430 885 545 985Z" transform="translate(0.00 0.00) scale(0.01855 -0.01855)" fill="rgb(98, 0, 255)"/></g>
<path d="M545 0L730 0L730 1434L600 1434Q480 1240 175 1075L185 915Q420 1010 545 1110Z" transform="translate(240.00 98.70) scale(0.01709 -0.01709)" fill="rgb(0, 0, 0)"/>
<g fill="none" stroke="#000080" stroke-width="4.4" stroke-dasharray="4.3 4.4">
<ellipse cx="693.9" cy="107.6" rx="29.7" ry="46.8"/>
<ellipse cx="728" cy="519.7" rx="29.9" ry="46.1"/>
</g>
<g stroke="#000080" stroke-width="2.2">
<line x1="694" y1="62.5" x2="642" y2="62.5"/>
<line x1="727" y1="566.3" x2="780" y2="566.3"/>
</g>
<g fill="#000080">
<polygon points="627.5,62.8 645,54.8 645,71.2"/>
<polygon points="796,566.3 778,558.8 778,574.8"/>
</g>
</svg>
</body></html>
